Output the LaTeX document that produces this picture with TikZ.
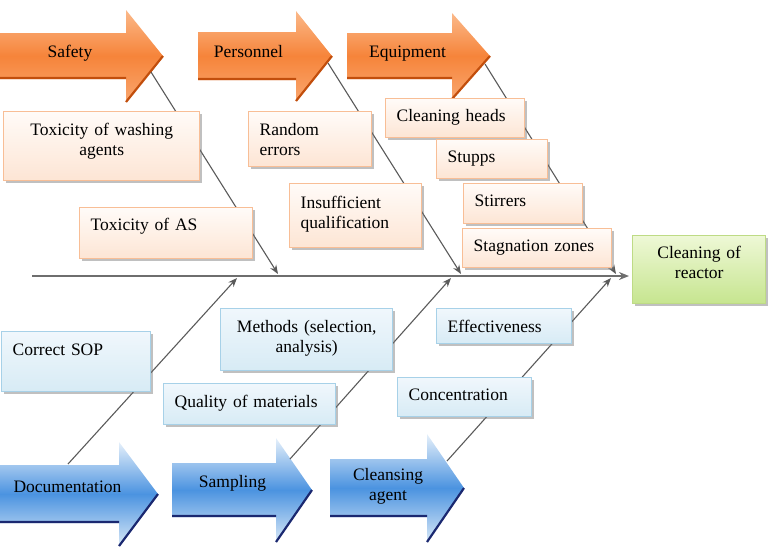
\documentclass[tikz,border=0pt]{standalone}
\usepackage{fontspec}
\setmainfont{Liberation Serif}
\newfontfamily\diagfont{Liberation Serif}
\usetikzlibrary{shadows,arrows.meta}
\definecolor{orT}{HTML}{FBB98A}
\definecolor{orM}{HTML}{F6843A}
\definecolor{orB}{HTML}{F9A66E}
\definecolor{orEdge}{HTML}{C24E0C}
\definecolor{blT}{HTML}{E6F0FA}
\definecolor{blM}{HTML}{4B93E0}
\definecolor{blB}{HTML}{D8E8F7}
\definecolor{blEdge}{HTML}{1A2870}
\definecolor{oboxT}{HTML}{FFFBF8}
\definecolor{oboxB}{HTML}{FDE5D4}
\definecolor{oboxD}{HTML}{F8BE96}
\definecolor{bboxT}{HTML}{F0F7FC}
\definecolor{bboxB}{HTML}{D7EBF5}
\definecolor{bboxD}{HTML}{A7D1E8}
\definecolor{gboxT}{HTML}{EEF8D6}
\definecolor{gboxB}{HTML}{C6E58F}
\definecolor{gboxD}{HTML}{BEDB85}
\definecolor{boneC}{HTML}{5A5A5A}
\definecolor{spineC}{HTML}{6E6E6E}
% #1 shade style, #2 edge colour, #3 x0, #4 x1 (head base), #5 tip x, #6 centre y, #7 body half, #8 head half
\newcommand\catarrow[8]{%
  \shade[#1] (#3,{#6-#7}) -- (#4,{#6-#7}) -- (#4,{#6-#8}) -- (#5,#6) -- (#4,{#6+#8}) -- (#4,{#6+#7}) -- (#3,{#6+#7}) -- cycle;
  \draw[#2, line width=2.2pt] (#3,{#6+#7-1}) -- (#4,{#6+#7-1}) (#5,#6) -- (#4,{#6+#8});
}
\tikzset{
  orshade/.style={top color=orT, bottom color=orB, middle color=orM},
  blshade/.style={top color=blT, bottom color=blB, middle color=blM},
  box/.style={anchor=north west, inner ysep=0pt, inner xsep=11pt, line width=1.4pt, align=left,
    drop shadow={shadow xshift=2.5pt, shadow yshift=-2.5pt, opacity=0.45, fill=black!55}},
  obox/.style={box, draw=oboxD, top color=oboxT, bottom color=oboxB},
  bbox/.style={box, draw=bboxD, top color=bboxT, bottom color=bboxB},
  gbox/.style={box, draw=gboxD, top color=gboxT, bottom color=gboxB},
  cbox/.style={inner xsep=4pt, align=center},
  bone/.style={draw=boneC, line width=1.1pt, -{Stealth[length=9pt, width=7pt]}},
  spine/.style={draw=spineC, line width=1.6pt, -{Stealth[length=10pt, width=8pt]}},
  cat/.style={anchor=base},
}
\begin{document}
\begin{tikzpicture}[x=1pt, y=-1pt, font=\diagfont\fontsize{17.5}{20}\selectfont]
\useasboundingbox (0,0) rectangle (768,550);

% category arrows
\catarrow{orshade}{orEdge}{-2}{126}{163}{56}{23}{46}
\catarrow{orshade}{orEdge}{198}{296}{332}{56}{24}{45}
\catarrow{orshade}{orEdge}{347}{452}{490}{56}{23}{43}
\catarrow{blshade}{blEdge}{-2}{119}{158}{494}{29}{52}
\catarrow{blshade}{blEdge}{172}{276}{312}{490}{27}{52}
\catarrow{blshade}{blEdge}{330}{427}{464}{488}{29}{54}

\node[cat] (safety) at (70,57) {Safety};
\node[cat] (personnel) at (248.5,57) {Personnel};
\node[cat] (equipment) at (407.5,57.5) {Equipment};
\node[cat] (documentation) at (67.5,492) {Documentation};
\node[cat] (sampling) at (232.5,487) {Sampling};
\node[align=center] (cleansing) at (388,486) {Cleansing\\agent};

% spine and bones
\coordinate (spineS) at (32,276);
\coordinate (spineE) at (629,276);
\coordinate (safB) at (151,72);   \coordinate (safE) at (278,274);
\coordinate (perB) at (328,63);   \coordinate (perE) at (461,274);
\coordinate (equB) at (485,64);   \coordinate (equE) at (616,274);
\coordinate (docB) at (68,464);   \coordinate (docE) at (237,278);
\coordinate (samB) at (290,459);  \coordinate (samE) at (451,278);
\coordinate (cleB) at (447,461);  \coordinate (cleE) at (611,278);
\draw[spine] (spineS) -- (spineE);
\draw[bone] (safB) -- (safE);
\draw[bone] (perB) -- (perE);
\draw[bone] (equB) -- (equE);
\draw[bone] (docB) -- (docE);
\draw[bone] (samB) -- (samE);
\draw[bone] (cleB) -- (cleE);

% cause boxes (orange)
\node[obox, cbox, text width=188pt, text height=24pt, text depth=45pt] (washing) at (3,111) {Toxicity of washing\\agents};
\node[obox, text width=151pt, text height=23pt, text depth=28pt] (toxas) at (79,207) {Toxicity of AS};
\node[obox, text width=101pt, text height=24pt, text depth=31pt] (random) at (248,111) {Random\\errors};
\node[obox, text width=110pt, text height=25pt, text depth=39pt] (qualif) at (289,183) {Insufficient\\qualification};
\node[obox, text width=117pt, text height=23pt, text depth=16pt] (heads) at (385,98) {Cleaning heads};
\node[obox, text width=89pt, text height=23pt, text depth=16pt] (stupps) at (436,139) {Stupps};
\node[obox, text width=97pt, text height=23pt, text depth=17pt] (stirrers) at (463,183) {Stirrers};
\node[obox, text width=127pt, text height=23pt, text depth=16pt] (stagnation) at (462,228) {Stagnation zones};

% cause boxes (blue)
\node[bbox, text width=127pt, text height=24pt, text depth=36pt] (sop) at (1,331) {Correct SOP};
\node[bbox, cbox, text width=164pt, text height=24pt, text depth=38pt] (methods) at (220,308) {Methods (selection,\\analysis)};
\node[bbox, text width=150pt, text height=24pt, text depth=17pt] (quality) at (163,383) {Quality of materials};
\node[bbox, text width=113pt, text height=24pt, text depth=11pt] (effect) at (436,308) {Effectiveness};
\node[bbox, text width=112pt, text height=23pt, text depth=16pt] (concentration) at (397,377) {Concentration};

% effect
\node[gbox, cbox, text width=125pt, text height=23pt, text depth=45pt] (reactor) at (632,235) {Cleaning of\\reactor};
\end{tikzpicture}
\end{document}
